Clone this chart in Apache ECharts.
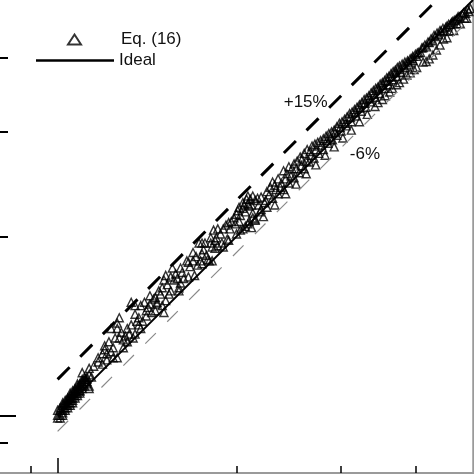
<!DOCTYPE html>
<html style="height: 100%">
<head>
  <meta charset="utf-8">
  <title>Eq. (16) vs ideal</title>
</head>
<body style="height: 100%; margin: 0">
  <div id="container" style="width: 474px; height: 474px"></div>
  <script type="text/javascript" src="https://cdn.jsdelivr.net/npm/echarts@6/dist/echarts.min.js"></script>
  <script type="text/javascript">
    // tick positions (log axes, no labels shown in the crop)
    var minorTicks = [0.9, 2, 3, 4];
    var majorTicks = [1];

    // reference lines
    var idealLine = [[1, 1], [5, 5]];
    var plusLine = [[1, 1.15], [5, 5.75]];
    var minusLine = [[1, 0.94], [5, 4.7]];

    // Eq. (16) points
    var eqLow = [
      [1.00, 1.00], [1.01, 1.02], [1.01, 1.00], [1.02, 1.03], [1.02, 1.01], [1.03, 1.04], [1.03, 1.02],
      [1.04, 1.05], [1.04, 1.03], [1.04, 1.06], [1.05, 1.04], [1.05, 1.07], [1.05, 1.06], [1.06, 1.05],
      [1.06, 1.08], [1.06, 1.07], [1.07, 1.09], [1.07, 1.07], [1.07, 1.10], [1.08, 1.09], [1.08, 1.11],
      [1.08, 1.12], [1.09, 1.10], [1.09, 1.13], [1.09, 1.12], [1.10, 1.13], [1.10, 1.11], [1.10, 1.15],
      [1.11, 1.14], [1.12, 1.14], [1.12, 1.16], [1.06, 1.10], [1.05, 1.09], [1.03, 1.06], [1.02, 1.05],
      [1.00, 1.02], [1.01, 1.03], [1.02, 1.02], [1.02, 1.04], [1.03, 1.03], [1.03, 1.05], [1.04, 1.04],
      [1.04, 1.07], [1.05, 1.05], [1.05, 1.08], [1.06, 1.06], [1.06, 1.09], [1.07, 1.08], [1.07, 1.11],
      [1.08, 1.10], [1.08, 1.08], [1.09, 1.11], [1.09, 1.09], [1.10, 1.12], [1.10, 1.14], [1.11, 1.12],
      [1.11, 1.16], [1.12, 1.15], [1.13, 1.17], [1.14, 1.16], [1.00, 0.99], [1.01, 0.99], [1.02, 1.00]
    ];
    var eqLowUpper = [
      [1.08, 1.13], [1.12, 1.13], [1.13, 1.11], [1.10, 1.18], [1.13, 1.20], [1.15, 1.21], [1.17, 1.23],
      [1.17, 1.25], [1.19, 1.27], [1.20, 1.29], [1.21, 1.27], [1.23, 1.28], [1.24, 1.30], [1.26, 1.25],
      [1.24, 1.25], [1.21, 1.24], [1.19, 1.22], [1.25, 1.35], [1.27, 1.35], [1.30, 1.36], [1.32, 1.37],
      [1.34, 1.35], [1.29, 1.34], [1.27, 1.46], [1.26, 1.43], [1.26, 1.40], [1.23, 1.40], [1.36, 1.44],
      [1.37, 1.42], [1.38, 1.40], [1.41, 1.47], [1.38, 1.53], [1.35, 1.53], [1.43, 1.54], [1.47, 1.54],
      [1.46, 1.50], [1.09, 1.10], [1.13, 1.12], [1.11, 1.15], [1.35, 1.48], [1.37, 1.46], [1.33, 1.55],
      [1.40, 1.55], [1.50, 1.53], [1.52, 1.56], [1.20, 1.31], [1.22, 1.33], [1.28, 1.38], [1.31, 1.40],
      [1.33, 1.42], [1.29, 1.30], [1.31, 1.33], [1.35, 1.37], [1.39, 1.44], [1.42, 1.52], [1.44, 1.49]
    ];
    var eqMid = [
      [1.43, 1.59], [1.46, 1.58], [1.47, 1.55], [1.51, 1.69], [1.52, 1.72], [1.50, 1.64], [1.55, 1.62],
      [1.57, 1.69], [1.59, 1.70], [1.61, 1.67], [1.60, 1.64], [1.56, 1.77], [1.55, 1.71], [1.66, 1.71],
      [1.61, 1.77], [1.65, 1.82], [1.66, 1.81], [1.69, 1.82], [1.74, 1.82], [1.75, 1.80], [1.79, 1.83],
      [1.82, 1.82], [1.69, 1.88], [1.75, 1.87], [1.73, 1.95], [1.75, 1.95], [1.77, 1.95], [1.81, 1.95],
      [1.82, 1.92], [1.84, 1.91], [1.81, 1.99], [1.84, 1.97], [1.86, 1.93], [1.94, 1.97], [1.93, 1.98],
      [1.83, 2.05], [1.86, 2.06], [1.90, 2.06], [1.95, 2.06], [1.94, 2.11], [1.98, 2.15], [2.00, 2.18],
      [2.03, 2.17], [2.01, 2.21], [2.05, 2.23], [2.09, 2.27], [2.11, 2.31], [2.09, 2.34], [2.06, 2.26],
      [2.07, 2.08], [2.09, 2.10], [2.13, 2.15], [2.15, 2.13], [2.03, 2.05], [2.13, 2.19],
      [1.41, 1.50], [1.45, 1.57], [1.49, 1.60], [1.51, 1.49], [1.60, 1.62], [1.70, 1.72], [1.80, 1.82],
      [1.90, 1.92], [2.00, 2.02], [1.48, 1.62], [1.53, 1.66], [1.54, 1.60], [1.58, 1.73], [1.62, 1.74],
      [1.63, 1.70], [1.67, 1.78], [1.71, 1.85], [1.72, 1.79], [1.76, 1.90], [1.78, 1.86], [1.85, 1.99],
      [1.88, 2.02], [1.89, 1.95], [1.92, 2.09], [1.96, 2.12], [1.99, 2.10], [2.02, 2.12], [2.07, 2.20],
      [2.12, 2.26], [2.17, 2.32], [2.19, 2.20], [2.24, 2.30], [2.27, 2.35]
    ];
    var eqHighUpper = [
      [2.02, 2.24], [2.05, 2.28], [2.08, 2.31], [2.10, 2.25], [2.13, 2.34], [2.15, 2.30], [2.18, 2.26],
      [2.20, 2.33], [2.23, 2.28], [2.25, 2.38], [2.28, 2.42], [2.30, 2.47], [2.32, 2.44], [2.35, 2.50],
      [2.38, 2.46], [2.40, 2.58], [2.43, 2.55], [2.45, 2.62], [2.48, 2.60], [2.50, 2.65], [2.53, 2.68],
      [2.56, 2.72], [2.58, 2.70], [2.60, 2.76], [2.63, 2.80], [2.66, 2.78], [2.68, 2.84], [2.71, 2.86],
      [2.74, 2.88], [2.77, 2.90], [2.80, 2.92], [2.83, 2.95], [2.86, 2.98], [2.89, 3.00], [2.92, 3.02],
      [2.95, 3.06], [2.98, 3.10], [3.01, 3.12], [3.04, 3.15], [3.07, 3.18], [3.10, 3.22], [3.13, 3.24],
      [3.16, 3.27], [3.19, 3.30], [3.22, 3.33], [3.25, 3.36], [3.28, 3.40], [3.31, 3.42], [3.34, 3.45],
      [3.37, 3.49], [3.40, 3.52], [3.43, 3.55], [3.46, 3.57], [3.49, 3.61], [3.52, 3.63], [3.55, 3.66],
      [3.58, 3.70], [3.61, 3.72], [3.64, 3.76], [3.67, 3.79], [3.70, 3.81], [3.73, 3.85], [3.76, 3.87],
      [3.80, 3.90], [3.84, 3.93], [3.88, 3.95], [3.92, 3.98], [3.96, 4.02], [4.00, 4.05], [4.05, 4.08],
      [4.10, 4.15], [4.15, 4.20], [4.20, 4.25], [4.25, 4.30], [4.30, 4.36], [4.35, 4.40], [4.40, 4.44],
      [4.45, 4.48], [4.50, 4.50], [4.55, 4.55], [4.60, 4.58], [4.65, 4.62], [4.70, 4.65], [4.75, 4.68],
      [4.80, 4.72], [4.86, 4.75], [4.92, 4.78]
    ];
    var eqHighLine = [
      [2.05, 2.06], [2.10, 2.12], [2.15, 2.14], [2.20, 2.22], [2.25, 2.24], [2.30, 2.32], [2.35, 2.36],
      [2.40, 2.40], [2.45, 2.46], [2.50, 2.51], [2.55, 2.56], [2.60, 2.60], [2.65, 2.67], [2.70, 2.71],
      [2.75, 2.76], [2.80, 2.80], [2.85, 2.87], [2.90, 2.91], [2.95, 2.96], [3.00, 3.01], [3.06, 3.07],
      [3.12, 3.12], [3.18, 3.19], [3.24, 3.25], [3.30, 3.30], [3.36, 3.37], [3.42, 3.43], [3.48, 3.48],
      [3.54, 3.55], [3.60, 3.60], [3.66, 3.67], [3.72, 3.72], [3.78, 3.78], [3.84, 3.85], [3.90, 3.90],
      [3.96, 3.96], [4.02, 4.02], [4.08, 4.08], [4.18, 4.17], [4.28, 4.27], [4.38, 4.37], [4.48, 4.45],
      [4.58, 4.55], [4.68, 4.63], [2.33, 2.40], [2.37, 2.42], [2.42, 2.50], [2.47, 2.53], [2.52, 2.60],
      [2.57, 2.63], [2.62, 2.68], [2.67, 2.74], [2.72, 2.80], [2.78, 2.85], [2.84, 2.90], [2.88, 2.93],
      [2.93, 2.99], [2.99, 3.05], [3.05, 3.10], [3.11, 3.17], [3.17, 3.23], [3.23, 3.29], [3.29, 3.35],
      [3.35, 3.41], [3.41, 3.47], [3.47, 3.53], [3.53, 3.59], [3.59, 3.65], [3.65, 3.71], [3.71, 3.77],
      [3.77, 3.82], [3.83, 3.88], [3.89, 3.93], [3.95, 3.99], [4.03, 4.07], [4.12, 4.16], [4.22, 4.24],
      [4.32, 4.34], [4.42, 4.43], [4.52, 4.52], [4.62, 4.60], [4.72, 4.69], [4.82, 4.76], [4.90, 4.82],
      [4.95, 4.84]
    ];
    var eqHighLower = [
      [2.12, 2.07], [2.22, 2.16], [2.32, 2.26], [2.42, 2.36], [2.52, 2.45], [2.62, 2.55], [2.72, 2.64],
      [2.82, 2.74], [2.92, 2.83], [3.02, 2.93], [3.12, 3.02], [3.22, 3.12], [3.32, 3.21], [3.42, 3.31],
      [3.52, 3.40], [3.62, 3.50], [3.72, 3.60], [3.82, 3.68], [3.92, 3.77], [4.02, 3.85], [4.12, 3.93],
      [4.22, 3.98], [4.28, 4.04], [4.40, 4.20], [4.52, 4.32], [4.64, 4.44], [4.76, 4.56], [4.88, 4.66],
      [4.84, 4.66], [4.70, 4.56], [4.57, 4.43], [4.46, 4.30], [4.34, 4.12], [4.17, 3.94], [3.98, 3.82],
      [3.87, 3.74], [3.76, 3.63], [3.66, 3.55], [3.56, 3.45], [3.46, 3.36]
    ];
    var eqPoints = eqLow.concat(eqLowUpper, eqMid, eqHighUpper, eqHighLine, eqHighLower);

    var font = "'Liberation Sans', Arial, Helvetica, sans-serif";
    var dom = document.getElementById("container");
    var myChart = echarts.init(dom);

    function logAxis(extra) {
      var base = {
        type: 'log',
        logBase: 10,
        min: 0.8,
        max: 5,
        axisLabel: { show: false },
        splitLine: { show: false },
        axisLine: { show: false }
      };
      return Object.assign(base, extra);
    }

    var option = {
      animation: false,
      backgroundColor: '#fff',
      textStyle: { fontFamily: font },
      grid: { left: 0, top: 0, right: 1, bottom: 1 },
      xAxis: [
        logAxis({
          position: 'bottom',
          axisLine: { show: true, onZero: false, lineStyle: { color: '#9a9a9a', width: 2 } },
          axisTick: { show: true, inside: true, length: 7, customValues: minorTicks, lineStyle: { color: '#000', width: 1.5 } }
        }),
        logAxis({
          position: 'bottom',
          axisTick: { show: true, inside: true, length: 15, customValues: majorTicks, lineStyle: { color: '#000', width: 1.5 } }
        })
      ],
      yAxis: [
        logAxis({
          position: 'left',
          axisTick: { show: true, inside: true, length: 8, customValues: minorTicks, lineStyle: { color: '#000', width: 2 } }
        }),
        logAxis({
          position: 'left',
          axisTick: { show: true, inside: true, length: 16, customValues: majorTicks, lineStyle: { color: '#000', width: 2 } }
        }),
        logAxis({
          position: 'right',
          axisLine: { show: true, onZero: false, lineStyle: { color: '#9a9a9a', width: 2.5 } },
          axisTick: { show: false }
        })
      ],
      legend: [
        {
          data: ['Eq. (16)'],
          left: 67,
          top: 31,
          padding: 0,
          itemWidth: 13,
          itemHeight: 10,
          itemStyle: { color: 'rgba(0,0,0,0)', borderColor: '#000', borderWidth: 2 },
          textStyle: { fontSize: 17, color: '#111', fontFamily: font, padding: [4, 0, 0, 35] }
        },
        {
          data: [{ name: 'Ideal', icon: 'rect' }],
          left: 36,
          top: 52,
          padding: 0,
          itemWidth: 78,
          itemHeight: 2.5,
          itemStyle: { color: '#000', borderWidth: 0 },
          textStyle: { fontSize: 17, color: '#111', fontFamily: font }
        }
      ],
      series: [
        {
          name: '-6%',
          type: 'line',
          data: minusLine,
          symbol: 'none',
          silent: true,
          lineStyle: { color: '#8a8a8a', width: 1.2, type: [15, 16] },
          markPoint: {
            symbol: 'circle',
            symbolSize: 1,
            itemStyle: { color: 'rgba(0,0,0,0)' },
            label: { show: true, position: 'inside', formatter: '-6%', color: '#111', fontSize: 17, fontFamily: font },
            data: [{ coord: [3.29, 2.75] }]
          }
        },
        {
          name: '+15%',
          type: 'line',
          data: plusLine,
          symbol: 'none',
          silent: true,
          lineStyle: { color: '#000', width: 3, type: [17, 15] },
          markPoint: {
            symbol: 'circle',
            symbolSize: 1,
            itemStyle: { color: 'rgba(0,0,0,0)' },
            label: { show: true, position: 'inside', formatter: '+15%', color: '#111', fontSize: 17, fontFamily: font },
            data: [{ coord: [2.615, 3.365] }]
          }
        },
        {
          name: 'Ideal',
          type: 'line',
          data: idealLine,
          symbol: 'none',
          silent: true,
          lineStyle: { color: '#000', width: 2 }
        },
        {
          name: 'Eq. (16)',
          type: 'scatter',
          data: eqPoints,
          symbol: 'triangle',
          symbolSize: 8,
          itemStyle: { color: 'rgba(255,255,255,0)', borderColor: '#000', borderWidth: 1.4 }
        }
      ]
    };
    if (option && typeof option === "object") {
      myChart.setOption(option, true);
    }
  </script>
</body>
</html>
